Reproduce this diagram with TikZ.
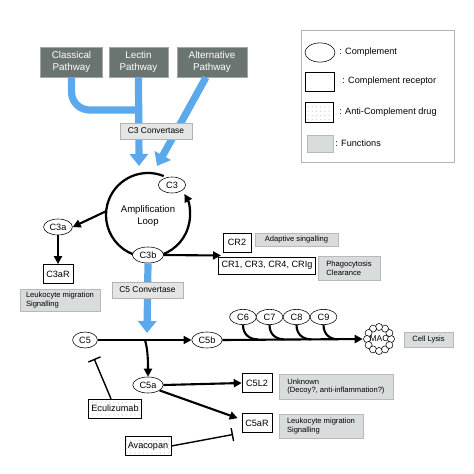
\documentclass[tikz,border=0pt]{standalone}
\usepackage{fontspec}
\setmainfont{Liberation Sans}
\usetikzlibrary{shapes.geometric,arrows.meta,patterns,positioning}
\definecolor{pathgray}{RGB}{106,116,113}
\definecolor{flowblue}{RGB}{92,168,236}
\definecolor{funcgray}{RGB}{216,220,220}
\tikzset{
  pathway/.style={draw=gray!70,fill=pathgray,text=white,align=center,minimum width=1.55cm,minimum height=0.75cm,inner sep=1pt,font=\fontsize{7}{8.2}\selectfont},
  comp/.style={ellipse,draw,thin,fill=white,minimum width=0.72cm,minimum height=0.4cm,inner sep=0pt,font=\fontsize{6.5}{7}\selectfont},
  receptor/.style={draw,thin,fill=white,minimum width=0.75cm,minimum height=0.48cm,inner sep=2pt,font=\fontsize{6.5}{7}\selectfont},
  drug/.style={draw,thin,pattern=dots,pattern color=gray!35,minimum height=0.47cm,inner sep=2pt,font=\fontsize{6.5}{7}\selectfont},
  func/.style={draw=gray!55,fill=funcgray,align=left,inner sep=2pt,font=\fontsize{5.4}{6.3}\selectfont},
  convert/.style={draw=gray!60,fill=funcgray!70,minimum height=0.4cm,inner sep=1pt,font=\fontsize{6}{7}\selectfont},
  bluepipe/.style={flowblue,line width=0.18cm},
  bluearrow/.style={bluepipe,-{Triangle[width=0.45cm,length=0.3cm]}},
  thickarrow/.style={line width=1.5pt,-{Triangle[width=0.2cm,length=0.2cm]}},
  loopline/.style={line width=1.6pt},
  inhibit/.style={line width=1pt,-{Bar[width=0.33cm,line width=1pt]}},
  legendtext/.style={anchor=west,inner sep=0pt,font=\fontsize{6.5}{7}\selectfont}
}
\begin{document}
\begin{tikzpicture}[x=0.025cm,y=-0.025cm]
    \useasboundingbox[fill=white] (0,0) rectangle (474,474);
    % pathways
    \node[pathway] (classical) at (71.5,62) {Classical\\Pathway};
    \node[pathway,minimum width=1.48cm] (lectin) at (138.5,62) {Lectin\\Pathway};
    \node[pathway,minimum width=1.75cm] (alternative) at (212,62) {Alternative\\Pathway};
    \coordinate (c3in) at (139,166);
    \coordinate (altin) at (157,166);
    \draw[bluepipe,rounded corners=0.45cm] (classical.south) |- (139,110);
    \draw[bluearrow] (lectin.south) -- (c3in);
    \draw[bluearrow] ([xshift=-0.15cm]alternative.south) -- (altin);
    \node[convert,minimum width=1.8cm] (c3conv) at (156,131) {C3 Convertase};

    % amplification loop
    \node[circle,minimum size=2.1cm,inner sep=0pt] (loop) at (148,215) {};
    \begin{scope}[shift={(loop.center)},x=1cm,y=1cm]
        \draw[loopline,-{Triangle[width=0.2cm,length=0.2cm]}] (-70:1.05) arc[start angle=-70,end angle=30,radius=1.05];
        \draw[loopline] (68:1.05) arc[start angle=68,end angle=250,radius=1.05];
    \end{scope}
    \node[align=center,font=\fontsize{6.8}{8.4}\selectfont] (amp) at (148,216) {Amplification\\Loop};
    \node[comp,minimum width=0.68cm] (c3) at (172,185) {C3};
    \node[comp,minimum width=0.78cm] (c3b) at (148,255) {C3b};
    \node[comp] (c3a) at (58,227) {C3a};
    \draw[thickarrow] (loop.175) -- (c3a.east);
    \node[receptor] (c3ar) at (58,274) {C3aR};
    \draw[thickarrow] (c3a.south) -- (c3ar.north);
    \node[func,minimum width=2cm,minimum height=0.5cm] (leuk1) at (60,300) {Leukocyte migration\\Signalling};

    % complement receptors
    \node[receptor,minimum width=0.7cm] (cr2) at (237,242.5) {CR2};
    \node[func,minimum width=2.08cm,minimum height=0.33cm] (adapt) at (296.5,239.5) {Adaptive singalling};
    \node[receptor,minimum width=2.2cm,minimum height=0.43cm] (cr1) at (267,265.5) {CR1, CR3, CR4, CRIg};
    \node[func,minimum width=1.55cm,minimum height=0.6cm] (phago) at (349,268) {Phagocytosis\\Clearance};
    \coordinate (crin) at (221,255.5);
    \draw[thickarrow] (c3b.east) -- (crin);

    % C5 cleavage
    \coordinate (c5in) at (147,333);
    \draw[bluearrow] (c3b.south) -- (c5in);
    \node[convert,minimum width=1.78cm] (c5conv) at (147.5,290) {C5 Convertase};
    \node[comp,minimum width=0.62cm] (c5) at (85,340) {C5};
    \node[comp,minimum width=0.76cm] (c5b) at (207,340) {C5b};
    \node[comp,minimum width=0.76cm] (c5a) at (148,385) {C5a};
    \coordinate (split) at (145,340);
    \draw[thickarrow] (c5.east) -- (c5b.west);
    \draw[thickarrow] (split) .. controls +(3,10) and +(0,-14) .. (c5a.north);

    % terminal pathway
    \node[circle,minimum size=0.8cm,inner sep=0pt] (mac) at (379,339) {};
    \foreach \a in {0,30,...,330}
        \draw[thin,fill=white] (mac) ++(\a:0.3cm) circle (0.088cm);
    \node[font=\fontsize{6}{7}\selectfont] at (mac) {MAC};
    \draw[thickarrow] (c5b.east) -- (mac.west);
    \foreach \n/\x in {6/243,7/269.5,8/296.5,9/323.5}{
        \node[comp,minimum width=0.67cm,minimum height=0.38cm] (c\n) at (\x,317) {C\n};
        \draw[line width=1.5pt] (c\n.south) .. controls +(0,10) and +(-8,0) .. +(15,14.5);
    }
    \node[func,minimum width=1.23cm,minimum height=0.38cm] (lysis) at (428.5,339.5) {Cell Lysis};

    % C5a receptors
    \node[receptor] (c5l2) at (257,383) {C5L2};
    \node[func,minimum width=2.85cm,minimum height=0.63cm] (unknown) at (336,386.5) {Unknown\\(Decoy?, anti-inflammation?)};
    \node[receptor] (c5ar) at (257,423) {C5aR};
    \node[func,minimum width=2.1cm,minimum height=0.6cm] (leuk2) at (321,426) {Leukocyte migration\\Signalling};
    \draw[thickarrow] (c5a.east) -- (c5l2.west);
    \draw[thickarrow] (c5a.-25) -- ([yshift=0.12cm,xshift=-0.1cm]c5ar.west);

    % drugs
    \node[drug,minimum width=1.3cm] (ecu) at (115,408.5) {Eculizumab};
    \node[drug,minimum width=1.1cm] (ava) at (148,446) {Avacopan};
    \draw[inhibit,shorten >=0.3cm] ([xshift=-0.1cm]ecu.north) -- (c5.-60);
    \draw[inhibit,shorten >=0.22cm] (ava.east) -- (c5ar.south west);

    % legend
    \draw[draw=gray!60,thin] (301,30) rectangle (454,162);
    \node[ellipse,draw,thin,minimum width=0.75cm,minimum height=0.48cm] (legcomp) at (320,52.5) {};
    \node[legendtext] at (339,52) {: Complement};
    \node[draw,thin,minimum width=0.73cm,minimum height=0.48cm] (legrec) at (319.5,81.5) {};
    \node[legendtext] at (342,81) {: Complement receptor};
    \node[draw,thin,pattern=dots,pattern color=gray!35,minimum width=0.7cm,minimum height=0.5cm] (legdrug) at (319,112) {};
    \node[legendtext] at (339,112) {: Anti-Complement drug};
    \node[func,minimum width=0.65cm,minimum height=0.43cm] (legfunc) at (320,143.5) {};
    \node[legendtext] at (335,143) {: Functions};
\end{tikzpicture}
\end{document}
